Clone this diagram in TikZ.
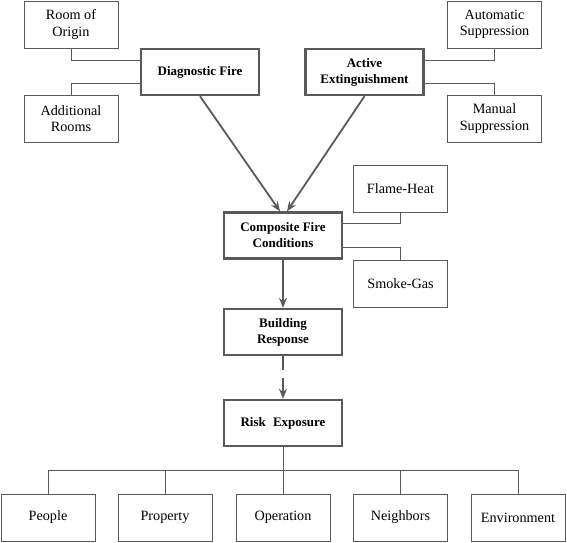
\documentclass[tikz,border=0pt]{standalone}
\usepackage{fontspec}
\setmainfont{Liberation Serif}
\usetikzlibrary{arrows.meta,calc}
\definecolor{lc}{HTML}{5A5A5A}
\tikzset{
  thinbox/.style={draw=lc, line width=0.9pt, minimum width=94pt, minimum height=47pt, align=center, inner sep=0pt, font=\fontsize{14.2}{16.5}\selectfont},
  mainbox/.style={draw=lc, line width=2.4pt, minimum width=118pt, minimum height=46pt, align=center, inner sep=0pt, font=\fontsize{13}{16}\selectfont\bfseries},
  link/.style={draw=lc, line width=0.9pt},
  flow/.style={draw=lc, line width=1.8pt, -{Stealth[length=10pt,width=8pt]}}
}
\begin{document}
\begin{tikzpicture}[x=1pt,y=-1pt]
\useasboundingbox (0,0) rectangle (567,542);
% top left
\node[thinbox] (ro) at (71,24.5) {Room of\\Origin};
\node[thinbox] (ar) at (71,118.5) {Additional\\Rooms};
\node[mainbox] (df) at (200,72) {Diagnostic Fire};
% top right
\node[mainbox] (ae) at (364.5,72) {Active\\Extinguishment};
\node[thinbox] (as) at (494.5,24.5) {Automatic\\Suppression};
\node[thinbox] (ms) at (494.5,118.5) {Manual\\Suppression};
% middle
\node[mainbox] (cf) at (283,235.5) {Composite Fire\\Conditions};
\node[thinbox] (fh) at (400.5,188.5) {Flame-Heat};
\node[thinbox] (sg) at (400.5,283.5) {Smoke-Gas};
\node[mainbox] (br) at (283,332) {Building\\Response};
\node[mainbox] (re) at (283,423) {Risk\;\;Exposure};
% bottom row
\node[thinbox] (pe) at (48,517.5) {People};
\node[thinbox] (pr) at (165,517.5) {Property};
\node[thinbox] (op) at (283,517.5) {Operation};
\node[thinbox] (ne) at (400.5,517.5) {Neighbors};
\node[thinbox] (en) at (518,517.5) {Environment};
% side links
\draw[link] (ro.south) |- ([yshift=12pt]df.west);
\draw[link] (ar.north) |- ([yshift=-11pt]df.west);
\draw[link] (as.south) |- ([yshift=12pt]ae.east);
\draw[link] (ms.north) |- ([yshift=-11pt]ae.east);
\draw[link] (fh.south) |- ([yshift=12.5pt]cf.east);
\draw[link] (sg.north) |- ([yshift=-11.5pt]cf.east);
% flows
\draw[flow] (df.south) -- ([xshift=-3pt]cf.north);
\draw[flow] (ae.south) -- ([xshift=4pt]cf.north);
\draw[flow] (cf.south) -- (br.north);
\draw[flow, dash pattern=on 14pt off 8pt on 40pt] (br.south) -- (re.north);
% bottom tree
\coordinate (bus) at ($(re.south)!0.5!(op.north)$);
\draw[link] (re.south) -- (op.north);
\foreach \c in {pe,pr,ne,en} \draw[link] (\c.north) |- (bus);
\end{tikzpicture}
\end{document}
